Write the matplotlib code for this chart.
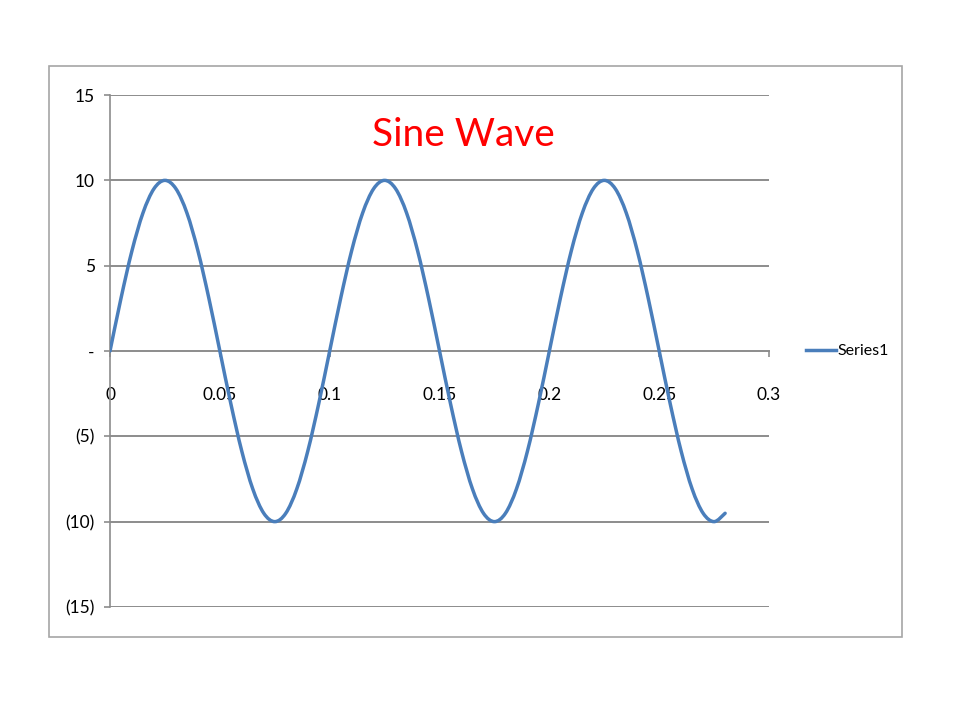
import matplotlib.pyplot as plt
from matplotlib import font_manager
from matplotlib.patches import Rectangle, PathPatch
from matplotlib.path import Path
from matplotlib.lines import Line2D

time_s = [0.000, 0.005, 0.010, 0.015, 0.020, 0.025, 0.030, 0.035, 0.040, 0.045,
          0.050, 0.055, 0.060, 0.065, 0.070, 0.075, 0.080, 0.085, 0.090, 0.095,
          0.100, 0.105, 0.110, 0.115, 0.120, 0.125, 0.130, 0.135, 0.140, 0.145,
          0.150, 0.155, 0.160, 0.165, 0.170, 0.175, 0.180, 0.185, 0.190, 0.195,
          0.200, 0.205, 0.210, 0.215, 0.220, 0.225, 0.230, 0.235, 0.240, 0.245,
          0.250, 0.255, 0.260, 0.265, 0.270, 0.275, 0.280]
amplitude = [0.00, 3.09, 5.88, 8.09, 9.51, 10.00, 9.51, 8.09, 5.88, 3.09,
             0.00, -3.09, -5.88, -8.09, -9.51, -10.00, -9.51, -8.09, -5.88, -3.09,
             0.00, 3.09, 5.88, 8.09, 9.51, 10.00, 9.51, 8.09, 5.88, 3.09,
             0.00, -3.09, -5.88, -8.09, -9.51, -10.00, -9.51, -8.09, -5.88, -3.09,
             0.00, 3.09, 5.88, 8.09, 9.51, 10.00, 9.51, 8.09, 5.88, 3.09,
             0.00, -3.09, -5.88, -8.09, -9.51, -10.00, -9.51]

y_ticks = [15, 10, 5, 0, -5, -10, -15]
y_labels = ["15", "10", "5", "-", "(5)", "(10)", "(15)"]
x_ticks = [0, 0.05, 0.1, 0.15, 0.2, 0.25, 0.3]
x_labels = ["0", "0.05", "0.1", "0.15", "0.2", "0.25", "0.3"]

# pick a narrow font if one is installed (the original looks like Calibri)
narrow = None
for f in font_manager.fontManager.ttflist:
    if f.name == "Liberation Sans Narrow" and f.weight in (400, "normal", "regular") and f.style == "normal":
        narrow = f.name
        break
if narrow:
    plt.rcParams['font.family'] = [narrow, 'DejaVu Sans']
    lab_size, title_size = 14, 32
else:
    plt.rcParams['font.family'] = ['Lato', 'DejaVu Sans']
    lab_size, title_size = 12.5, 28

grid_col = "#8c8c8c"
line_col = "#4a7ebb"

fig = plt.figure(figsize=(9.6, 7.2), dpi=100)
fig.patches.append(Rectangle((0.051, 0.1153), 0.8886, 0.793, transform=fig.transFigure,
                             fill=False, edgecolor="#a6a6a6", linewidth=1.2))

ax = fig.add_axes([0.1146, 0.157, 0.6865, 0.711])

# smoothed line like Excel: Catmull-Rom segments as cubic Beziers
verts = [(time_s[0], amplitude[0])]
codes = [Path.MOVETO]
n = len(time_s)
for i in range(n - 1):
    x0, y0 = time_s[max(i - 1, 0)], amplitude[max(i - 1, 0)]
    x1, y1 = time_s[i], amplitude[i]
    x2, y2 = time_s[i + 1], amplitude[i + 1]
    x3, y3 = time_s[min(i + 2, n - 1)], amplitude[min(i + 2, n - 1)]
    verts += [(x1 + (x2 - x0) / 6, y1 + (y2 - y0) / 6),
              (x2 - (x3 - x1) / 6, y2 - (y3 - y1) / 6),
              (x2, y2)]
    codes += [Path.CURVE4] * 3
ax.add_patch(PathPatch(Path(verts, codes), facecolor="none", edgecolor=line_col,
                       linewidth=2.5, capstyle="round", joinstyle="round", zorder=3))

ax.set_xlim(0, 0.3)
ax.set_ylim(-15, 15)
ax.set_yticks(y_ticks)
ax.set_yticklabels(y_labels)
ax.set_xticks(x_ticks)
ax.set_xticklabels(x_labels)

for v in y_ticks:
    if v != 0:
        ax.axhline(v, color=grid_col, linewidth=1.4, zorder=1)

for s in ["top", "right"]:
    ax.spines[s].set_visible(False)
ax.spines["bottom"].set_position(("data", 0))
ax.spines["bottom"].set_color(grid_col)
ax.spines["bottom"].set_linewidth(1.4)
ax.spines["left"].set_color(grid_col)
ax.spines["left"].set_linewidth(1.2)

ax.tick_params(axis="y", direction="out", length=4, color=grid_col, width=1.2,
               labelsize=lab_size, pad=7)
ax.tick_params(axis="x", direction="out", length=4, color=grid_col, width=1.2,
               labelsize=lab_size, pad=22)

fig.text(463 / 960, 1 - 135 / 720, "Sine Wave", color="#ff0000", fontsize=title_size,
         ha="center", va="center")

handle = Line2D([], [], color=line_col, linewidth=2.5)
ax.legend([handle], ["Series1"], loc="center left", bbox_to_anchor=(1.034, 0.5),
          frameon=False, handlelength=1.9, handletextpad=0.1, fontsize=lab_size - 1)

fig.savefig("out.png", dpi=100)
